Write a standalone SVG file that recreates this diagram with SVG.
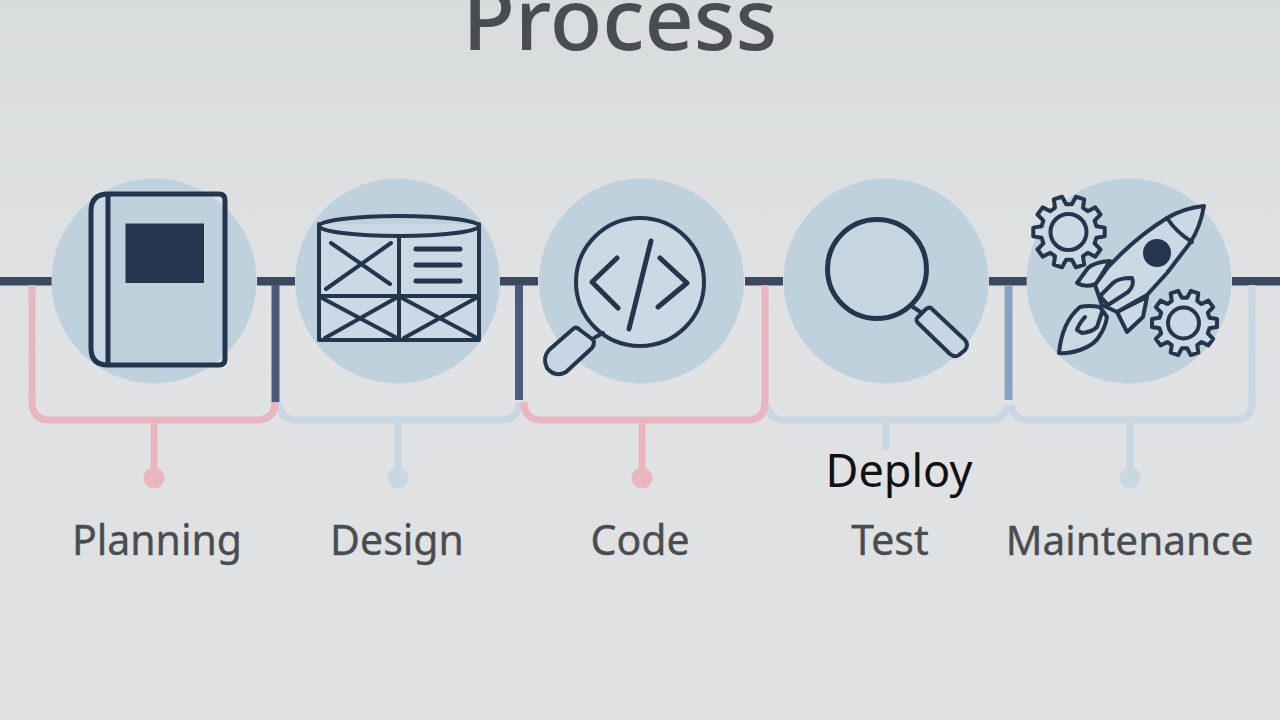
<svg xmlns="http://www.w3.org/2000/svg" width="1280" height="720" viewBox="0 0 1280 720">
<style>
.t{font-family:"Noto Sans","Open Sans","Liberation Sans",sans-serif;fill:#4a4d50;stroke:#4a4d50;stroke-width:.35;font-size:41px;text-anchor:middle}
.i{fill:none;stroke:#24364d;stroke-width:4;stroke-linejoin:round;stroke-linecap:round}
.f{fill:#24364d}
.c{fill:#c0d1de}
.b{fill:none;stroke-width:7}
.pk{stroke:#e9b5bf}.bl{stroke:#c8d7e2}
.dp{fill:#e9b5bf}.db{fill:#c8d7e2}
.lt{fill:#cbd9e5}
</style>
<defs>
<linearGradient id="bg" x1="0" y1="0" x2="0" y2="1"><stop offset="0" stop-color="#d9dcdd"/><stop offset=".45" stop-color="#e0e2e3"/><stop offset="1" stop-color="#dee0e1"/></linearGradient>
<path id="gear" d="M27.400 -5.800L35.700 -4.400L35.700 4.400L27.400 5.800L25.600 11.400L31.500 17.500L26.300 24.600L18.700 20.800L14 24.200L15.200 32.600L6.900 35.300L2.900 27.800L-2.900 27.800L-6.900 35.300L-15.200 32.600L-14 24.200L-18.700 20.800L-26.300 24.600L-31.500 17.500L-25.600 11.400L-27.400 5.800L-35.700 4.400L-35.700 -4.400L-27.400 -5.800L-25.600 -11.400L-31.500 -17.500L-26.300 -24.600L-18.700 -20.800L-14 -24.200L-15.200 -32.600L-6.900 -35.300L-2.900 -27.800L2.900 -27.800L6.900 -35.300L15.200 -32.600L14 -24.200L18.700 -20.800L26.300 -24.600L31.500 -17.500L25.600 -11.400Z"/>
</defs>
<rect width="1280" height="720" fill="url(#bg)"/>
<g id="connectors">
<g fill="#3a4860">
<rect x="0" y="277" width="52" height="8.500"/><rect x="257" y="277" width="38" height="8.500"/><rect x="500" y="277" width="38" height="8.500"/><rect x="745" y="277" width="38" height="8.500"/><rect x="989" y="277" width="38" height="8.500"/><rect x="1232" y="277" width="48" height="8.500"/>
</g>
<path class="b bl" d="M279 402Q279 420 297 420H501Q519 420 519 402"/>
<path class="b bl" d="M767 405Q769 420 785 420H990Q1005 420 1008 405"/>
<path class="b bl" d="M1011 405Q1013 420 1029 420H1233Q1252 420 1252 402V285"/>
<path class="b pk" d="M32 285V402Q32 420 50 420H256Q275 420 275 402"/>
<path class="b pk" d="M524 402Q524 420 542 420H746Q765 420 765 402V285"/>
<rect x="271.500" y="285" width="8" height="117" fill="#4b5b7c"/>
<rect x="515" y="285" width="8" height="115" fill="#4b5b7c"/>
<rect x="1004.500" y="285" width="8" height="115" fill="#86a3c0"/>
<path class="b pk" d="M154 420V475M642 420V475"/><path class="b bl" d="M398 420V475M1130 420V475M886 420V450"/>
<circle class="dp" cx="154" cy="478" r="10.500"/><circle class="db" cx="398" cy="478" r="10.500"/><circle class="dp" cx="642" cy="478" r="10.500"/><circle class="db" cx="1130" cy="478" r="10.500"/>
</g>
<text id="title" x="620" y="50" style="font-family:'Noto Sans','Open Sans',sans-serif;font-size:86px;font-weight:500;text-anchor:middle;fill:#4a4d50">Process</text>
<g id="planning">
<circle class="c" cx="154" cy="281" r="102.500"/>
<path d="M93 211Q93 196 106 196V363Q93 363 93 348Z" class="lt"/>
<path class="i" style="stroke-width:5" d="M108 194H219Q225 194 225 200V359Q225 365 219 365H108Q91 365 91 348V211Q91 194 108 194ZM108 194V365"/>
<rect class="f" x="125.500" y="223.500" width="78.500" height="59.500"/>
<text class="t" x="157" y="555">Planning</text>
</g>
<g id="design">
<circle class="c" cx="397.500" cy="281" r="102.500"/>
<path class="lt" d="M319 224H479V340H319Z"/>
<path class="i" d="M319 224V340H479V224M319 296H479M399 237V340M331 243L390 284M326 289L391 243M322 298L397 338M396 298L325 338M402 298L477 338M476 298L404 338"/>
<ellipse class="i" cx="399" cy="226" rx="80" ry="10"/>
<path class="i" style="stroke-width:5" d="M416 249H460M416 265H460M416 281H460"/>
<text class="t" x="397" y="555">Design</text>
</g>
<g id="code">
<circle class="c" cx="641.500" cy="281" r="102.500"/>
<circle class="i" style="fill:#cbd9e5" cx="640" cy="282" r="64"/>
<path class="i" style="stroke-width:5" d="M617 258L592 282L618 308M660 258L687 283L658 307M651 241L629 329"/>
<path class="i" style="fill:#c7d6e2" d="M594 338L603 333M573 329L549 350Q542 358 547 368Q555 378 566 372L592 348Q596 342 592 339L580 330Q576 326 573 329Z"/>
<text class="t" x="640" y="555">Code</text>
</g>
<g id="test">
<circle class="c" cx="886" cy="281" r="102.500"/>
<circle class="i" style="stroke-width:5;fill:#c6d5e2" cx="877" cy="269" r="49.500"/>
<path class="i" style="fill:#c7d6e2" d="M913 307L922 313M926 309Q930 306 933 310L965 340Q969 345 965 350L959 355Q955 358 950 354L918 323Q915 320 918 317Z"/>
<text class="t" x="890" y="555">Test</text>
<text x="899" y="487" style="font-family:'Noto Sans',sans-serif;font-size:45px;text-anchor:middle;fill:#111">Deploy</text>
</g>
<g id="maintenance">
<circle class="c" cx="1129" cy="281" r="102.500"/>
<use href="#gear" class="i" style="fill:#cbd9e5" transform="translate(1069 232)"/>
<circle class="i" cx="1068.500" cy="232" r="18"/>
<path class="i lt" style="fill:#cbd9e5" d="M1110 261Q1095 262 1088 268L1077 283Q1085 288 1096 284Z"/>
<path class="i" style="fill:#cbd9e5" d="M1147 297L1143 317L1127 332L1117 312Z"/>
<path class="i" style="fill:#cbd9e5" d="M1204 206Q1184 208 1167 218Q1143 233 1123 252L1108 267L1095 285L1102 305L1117 312L1147 295L1167 273L1190 243Q1200 228 1204 206Z"/>
<path class="i" d="M1167 218Q1176 232 1192 242"/>
<path class="i" style="fill:#cbd9e5" d="M1132 278Q1118 278 1113 283L1100 296L1108 305L1128 292Q1135 285 1132 278Z"/>
<circle class="f" cx="1157" cy="253" r="14"/>
<path class="i" style="fill:#cbd9e5" d="M1100 307Q1088 305 1080 307Q1062 322 1059 353Q1068 354 1080 350Q1095 345 1100 335Q1105 328 1107 317Z"/>
<path class="i" d="M1085 317Q1078 325 1077 330L1082 333Q1092 332 1097 327L1102 312"/>
<use href="#gear" class="i" style="fill:#cbd9e5;stroke-width:4.400" transform="translate(1184.500 323) scale(.91)"/>
<circle class="i" cx="1183.500" cy="323" r="15.500"/>
<text class="t" style="font-size:40.500px" x="1129.500" y="555">Maintenance</text>
</g>
</svg>
